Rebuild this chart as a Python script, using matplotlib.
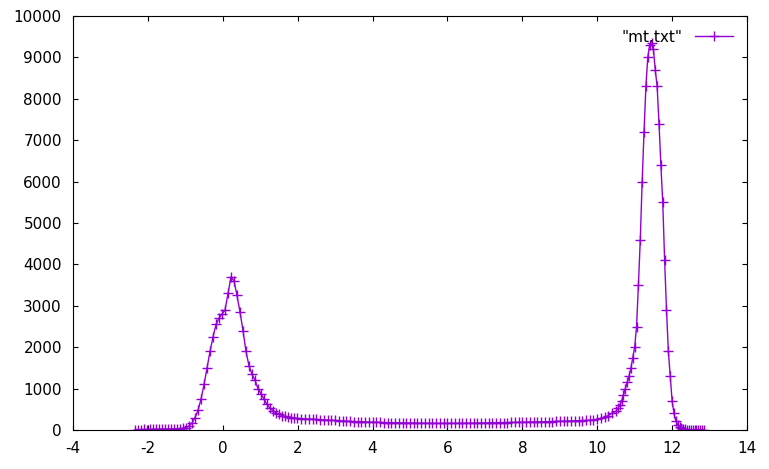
import numpy as np
import matplotlib
matplotlib.use("Agg")
import matplotlib.pyplot as plt

plt.rcParams['axes.unicode_minus'] = False

x1 = np.round(np.arange(55) * 0.08 - 2.34, 2)
y1 = [10,12,10,15,12,15,18,15,20,18,22,20,25,28,30,35,45,
      60,100,170,300,480,750,1100,1500,1900,2250,2550,2700,2800,2900,3300,3700,3600,3250,
      2850,2400,1900,1550,1350,1200,1000,880,750,620,530,470,420,380,350,330,310,300,290,280]
x2 = np.round(np.arange(84) * 0.1 + 2.1, 2)
y2 = [275,270,265,260,255,250,245,240,235,
      230,225,220,215,210,205,200,200,195,190,
      190,185,185,180,180,175,175,175,170,170,
      170,168,165,165,165,162,160,160,160,160,
      160,160,160,162,162,165,165,165,168,170,
      170,172,175,175,178,180,180,182,185,185,
      188,190,192,195,195,198,200,200,205,210,
      210,212,215,218,220,222,225,230,235,240,
      260,280,310,350,410]
x3 = np.round(np.arange(48) * 0.05 + 10.5, 2)
y3 = [450,520,600,700,850,1000,1150,1300,1500,1750,2000,2500,3500,4600,6000,7200,8300,9000,
      9300,9350,9200,8700,8300,7400,6400,5500,4100,2900,1900,1300,700,400,220,120,70,40,25,15,
      10,8,6,5,5,4,4,3,3,3]
x = np.concatenate([x1, x2, x3])
y = np.array(y1 + y2 + y3)

fig = plt.figure(figsize=(7.69, 4.69), dpi=100)
ax = fig.add_axes([73/769, 1-430/469, (747-73)/769, (430-16)/469])
ax.plot(x, y, color='#9400D3', marker='+', markersize=7, linewidth=1, label='"mt.txt"')
ax.set_xlim(-4, 14)
ax.set_ylim(0, 10000)
ax.set_xticks(range(-4, 15, 2))
ax.set_yticks(range(0, 10001, 1000))
ax.tick_params(direction='in', top=True, right=True, labelsize=11)
ax.tick_params(axis='y', pad=8)
ax.tick_params(axis='x', pad=8)
leg = ax.legend(loc='upper right', frameon=False, fontsize=11, handlelength=2.5, markerfirst=False)
fig.savefig('out.png', dpi=100)
